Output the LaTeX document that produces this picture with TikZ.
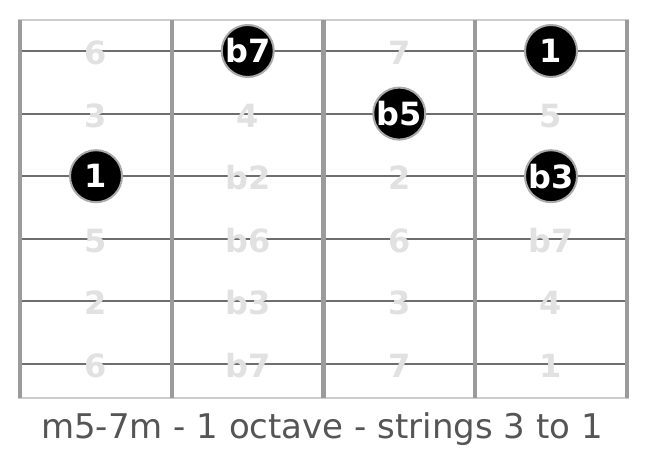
\documentclass[tikz,border=0pt]{standalone}
\usepackage{fontspec}
\setmainfont{DejaVu Sans}
\definecolor{string-color}{RGB}{110, 110, 110}
\definecolor{fret-color}{RGB}{155, 155, 155}
\definecolor{frame-color}{RGB}{205, 205, 205}
\definecolor{faint-color}{RGB}{225, 225, 225}
\definecolor{caption-color}{RGB}{85, 85, 85}
\definecolor{ring-color}{RGB}{170, 170, 170}

\begin{document}
\begin{tikzpicture}[x=1pt, y=-1pt,
  string/.style={draw=string-color, line width=2pt},
  fret/.style={draw=fret-color, line width=4.5pt},
  edge/.style={draw=frame-color, line width=2pt},
  faint/.style={text=faint-color, anchor=base, font=\fontsize{32}{32}\selectfont\bfseries},
  note/.style={circle, fill=black, draw=ring-color, line width=2pt, minimum size=52pt, inner sep=0pt, text=white, font=\fontsize{32}{32}\selectfont\bfseries}]
\useasboundingbox (0,0) rectangle (660,460);

\draw[edge] (18,20) -- (629,20);
\draw[edge] (18,398) -- (629,398);

\draw[string] (20,51) -- (627,51);
\draw[string] (20,113.6) -- (627,113.6);
\draw[string] (20,176.2) -- (627,176.2);
\draw[string] (20,238.8) -- (627,238.8);
\draw[string] (20,301.4) -- (627,301.4);
\draw[string] (20,364) -- (627,364);

\draw[fret] (20,20) -- (20,398);
\draw[fret] (172,20) -- (172,398);
\draw[fret] (323.5,20) -- (323.5,398);
\draw[fret] (475,20) -- (475,398);
\draw[fret] (627,20) -- (627,398);

% faint intervals, string 1
\node (s1-a) [faint] at (96,64.5) {6};
\node (s1-c) [faint] at (399.25,64.5) {7};
% string 2
\node (s2-a) [faint] at (96,127.1) {3};
\node (s2-b) [faint] at (247.75,127.1) {4};
\node (s2-d) [faint] at (551,127.1) {5};
% string 3
\node (s3-b) [faint] at (247.75,189.7) {b2};
\node (s3-c) [faint] at (399.25,189.7) {2};
% string 4
\node (s4-a) [faint] at (96,252.3) {5};
\node (s4-b) [faint] at (247.75,252.3) {b6};
\node (s4-c) [faint] at (399.25,252.3) {6};
\node (s4-d) [faint] at (551,252.3) {b7};
% string 5
\node (s5-a) [faint] at (96,314.9) {2};
\node (s5-b) [faint] at (247.75,314.9) {b3};
\node (s5-c) [faint] at (399.25,314.9) {3};
\node (s5-d) [faint] at (551,314.9) {4};
% string 6
\node (s6-a) [faint] at (96,377.5) {6};
\node (s6-b) [faint] at (247.75,377.5) {b7};
\node (s6-c) [faint] at (399.25,377.5) {7};
\node (s6-d) [faint] at (551,377.5) {1};

% played notes
\node (flat7) [note] at (247.75,51) {b7};
\node (root-high) [note] at (551,51) {1};
\node (flat5) [note] at (399.25,113.6) {b5};
\node (root-low) [note] at (96,176.2) {1};
\node (flat3) [note] at (551,176.2) {b3};

\node (caption) [anchor=base, text=caption-color, font=\fontsize{34}{34}\selectfont] at (322,438.5) {m5-7m - 1 octave - strings 3 to 1};
\end{tikzpicture}
\end{document}
